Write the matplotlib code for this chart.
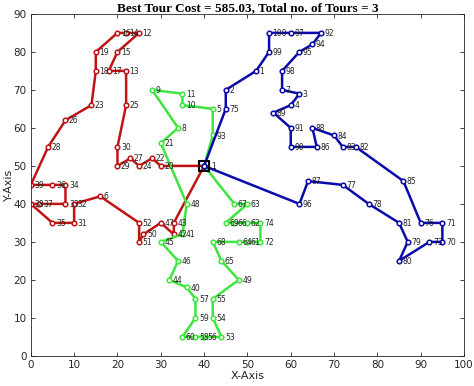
import matplotlib
matplotlib.use("Agg")
import matplotlib.pyplot as plt
import numpy as np

# node coordinates (id, x, y), depot drawn separately
node_id = list(range(1, 101))
node_x = [52, 45, 62, 60, 42, 16, 58, 34, 28, 35,
          35, 25, 22, 22, 20, 20, 18, 15, 15, 30,
          30, 28, 14, 25, 22, 8, 23, 4, 20, 20,
          10, 10, 8, 8, 5, 5, 2, 0, 0, 36,
          35, 33, 33, 32, 30, 34, 30, 36, 48, 26,
          25, 25, 44, 42, 42, 40, 38, 38, 38, 35,
          50, 50, 50, 48, 44, 47, 47, 42, 45, 95,
          95, 53, 92, 53, 45, 90, 72, 78, 87, 85,
          85, 75, 72, 70, 86, 66, 64, 65, 56, 60,
          60, 67, 42, 65, 62, 62, 60, 58, 55, 55]
node_y = [75, 70, 69, 66, 65, 42, 70, 60, 70, 66,
          69, 85, 75, 85, 80, 85, 75, 75, 80, 50,
          56, 52, 66, 50, 66, 62, 52, 55, 50, 55,
          35, 40, 40, 45, 35, 45, 40, 40, 45, 18,
          32, 32, 35, 20, 30, 25, 35, 40, 20, 32,
          30, 35, 5, 10, 15, 5, 15, 5, 10, 5,
          30, 35, 40, 30, 25, 35, 40, 30, 35, 30,
          35, 30, 30, 35, 65, 35, 45, 40, 30, 25,
          35, 55, 55, 58, 46, 55, 46, 60, 64, 55,
          60, 85, 58, 82, 80, 40, 85, 75, 80, 85]
depot = (40, 50)

route_red = [20, 22, 24, 27, 29, 30, 25, 13, 17, 15, 12, 14, 16, 19, 18, 23,
             26, 28, 39, 36, 34, 33, 37, 38, 35, 31, 32, 6, 52, 51, 50, 47,
             42, 43]
route_green = [93, 5, 10, 11, 9, 8, 21, 48, 41, 45, 46, 44, 40, 57, 59, 60,
               58, 56, 53, 54, 55, 49, 65, 68, 64, 61, 72, 74, 62, 66, 69, 63,
               67]
route_blue = [75, 2, 1, 99, 100, 97, 92, 94, 95, 98, 7, 3, 4, 89, 91, 90, 86,
              88, 84, 83, 82, 85, 76, 71, 70, 73, 80, 79, 81, 78, 77, 87, 96]

routes = [route_red, route_green, route_blue]
colors = ['#C01414', '#3CE63C', '#0A0AAA']

xy = {i: (x, y) for i, x, y in zip(node_id, node_x, node_y)}

fig = plt.figure(figsize=(4.74, 3.86), dpi=100)
ax = fig.add_axes([0.065, 0.078, 0.914, 0.886])

for r, c in zip(routes, colors):
    px = [depot[0]] + [xy[i][0] for i in r] + [depot[0]]
    py = [depot[1]] + [xy[i][1] for i in r] + [depot[1]]
    ax.plot(px, py, '-o', color=c, lw=1.8, ms=3.3, mfc='white', mec=c, mew=1.1)
    for i in r:
        ax.annotate(str(i), xy[i], xytext=(2.5, -0.5), textcoords='offset points',
                    fontsize=5.5, va='center', ha='left', color='#222222')

ax.plot(depot[0], depot[1], 's', ms=7, mfc='none', mec='black', mew=1.5)
ax.annotate('1', depot, xytext=(5, -0.5), textcoords='offset points',
            fontsize=5.5, va='center', ha='left', color='#222222')

ax.set_xlim(0, 100)
ax.set_ylim(0, 90)
ax.set_xticks(np.arange(0, 101, 10))
ax.set_yticks(np.arange(0, 91, 10))
ax.tick_params(direction='in', top=True, right=True, labelsize=7.5,
               colors='#262626', length=3, width=0.6, pad=3)
for s in ax.spines.values():
    s.set_color('#262626')
    s.set_linewidth(0.6)
ax.set_xlabel('X-Axis', fontsize=8, color='#262626', labelpad=1)
ax.set_ylabel('Y-Axis', fontsize=8, color='#262626', labelpad=0)
ax.set_title('Best Tour Cost = 585.03, Total no. of Tours = 3',
             fontsize=9.5, fontweight='bold', family='Liberation Serif', pad=2)

fig.savefig('out.png', dpi=100)
